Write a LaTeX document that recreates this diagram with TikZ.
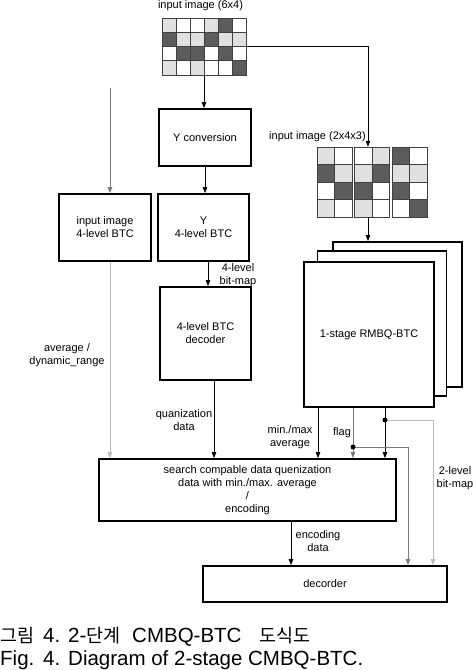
\documentclass[tikz,border=0pt]{standalone}
\usepackage{fontspec}
\setmainfont{Liberation Sans}
\newfontfamily\krfont{Noto Sans CJK KR}
\newcommand\krcap{\krfont\fontsize{18.5}{20}\selectfont}
\usetikzlibrary{arrows.meta}
\definecolor{cellL}{HTML}{E0E0E0}
\definecolor{cellW}{HTML}{FFFFFF}
\definecolor{cellD}{HTML}{5C5C5C}
\definecolor{wireGray}{HTML}{7A7A7A}
\definecolor{wireLight}{HTML}{BBBBBB}

\begin{document}
\begin{tikzpicture}[x=1pt,y=-1pt,font=\fontsize{11}{13}\selectfont,
  block/.style={draw,line width=1.8pt,fill=white,align=center,inner sep=0pt},
  cell/.style={draw=black!75,line width=0.8pt},
  wire/.style={draw,line width=0.8pt,-{Triangle[length=6pt,width=4.5pt]}},
  lab/.style={align=center,inner sep=0pt},
  captext/.style={anchor=base west,inner sep=0pt,font=\fontsize{20.5}{22}\selectfont}]
\useasboundingbox (0,0) rectangle (474,670);

% input images
\node[inner sep=0pt,minimum width=84,minimum height=57] (img6) at (204,46.5) {};
\node[inner sep=0pt,minimum width=110,minimum height=70] (img3) at (372,182) {};
\foreach \row/\cols in {0/{L,W,W,L,D,W},1/{D,L,L,D,L,L},2/{W,D,D,W,D,W},3/{L,W,L,W,W,D}} {
  \foreach \c [count=\i from 0] in \cols {
    \draw[cell,fill=cell\c] ({162+14*\i},{18+14.25*\row}) rectangle ++(14,14.25);
    \pgfmathsetmacro\gx{317+37.5*int(\i/2)+17.5*mod(\i,2)}
    \draw[cell,fill=cell\c] (\gx,{147+17.5*\row}) rectangle ++(17.5,17.5);
  }
}
\node[lab] (img6lab) at (200.5,6) {input image (6x4)};
\node[lab,anchor=east] (img3lab) at (366,137) {input image (2x4x3)};

% blocks
\node[block,minimum width=92,minimum height=57] (yconv) at (205,137.5) {Y conversion};
\node[block,minimum width=92,minimum height=67] (inbtc) at (105,227.5) {input image\\4-level BTC};
\node[block,minimum width=91,minimum height=67] (ybtc) at (203.5,227.5) {Y\\4-level BTC};
\node[block,minimum width=91,minimum height=93] (dec4) at (205.5,333.5) {4-level BTC\\decoder};
\foreach \name/\cx/\cy in {rm3/397.5/314.5,rm2/382/323.5} {
  \node[block,minimum width=129,minimum height=145] (\name) at (\cx,\cy) {};
}
\node[block,minimum width=130,minimum height=145] (rm1) at (369,334.5) {1-stage RMBQ-BTC};
\node[block,minimum width=297,minimum height=62] (search) at (247.5,490)
  {search compable data quenization\\data with min./max. average\\/\\encoding};
\node[block,minimum width=244,minimum height=36] (deco) at (325,584) {decorder};

% connectors
\coordinate (lstart) at (110,88);
\coordinate (bitdot) at (385,420);
\coordinate (flagdot) at (353,447);
\draw[wire] (img6.south) -- (img6.south |- yconv.north);
\draw[wire] (img6.east) -| ([xshift=-4pt]img3.north);
\draw[wire] ([xshift=-4pt]img3.south) -- ([xshift=-4pt]img3.south |- rm3.north);
\draw[wire,wireGray] (lstart) -- (lstart |- inbtc.north);
\draw[wire] (yconv.south) -- (yconv.south |- ybtc.north);
\draw[wire] ([xshift=4.5pt]ybtc.south) -- ([xshift=4.5pt]ybtc.south |- dec4.north);
\draw[wire,wireLight] ([xshift=5pt]inbtc.south) -- ([xshift=5pt]inbtc.south |- search.north);
\draw[wire] ([xshift=8.5pt]dec4.south) -- ([xshift=8.5pt]dec4.south |- search.north);
\draw[wire] ([xshift=-51pt]rm1.south) -- ([xshift=-51pt]rm1.south |- search.north);
\draw[wire,wireGray] ([xshift=-16pt]rm1.south) -- ([xshift=-16pt]rm1.south |- search.north);
\draw[wire] ([xshift=16pt]rm1.south) -- ([xshift=16pt]rm1.south |- search.north);
\draw[wire,wireGray] (flagdot) -| ([xshift=83pt]deco.north);
\draw[wire,wireLight] (bitdot) -| ([xshift=108pt]deco.north);
\draw[wire] ([xshift=43.5pt]search.south) -- ([xshift=43.5pt]search.south |- deco.north);
\fill (flagdot) circle (2.5pt);
\fill (bitdot) circle (2.5pt);

% labels
\node[lab] (bitmap4) at (238,275) {4-level\\bit-map};
\node[lab] (avgdyn) at (67,355) {average /\\dynamic\_range};
\node[lab] (quandata) at (184,420) {quanization\\data};
\node[lab] (minmax) at (290,437) {min./max\\average};
\node[lab] (flaglab) at (342,433) {flag};
\node[lab] (bitmap2) at (455,478) {2-level\\bit-map};
\node[lab] (encdata) at (318,541) {encoding\\data};

% caption
\foreach \x/\txt [count=\k] in {0/{\krcap 그림},43/4.,68/{2-\krcap 단계},132/CMBQ-BTC,259/{\krcap 도식도}} {
  \node[captext] (capk\k) at (\x,642) {\txt};
}
\foreach \x/\txt [count=\k] in {0/Fig.,43/4.,68/Diagram of 2-stage CMBQ-BTC.} {
  \node[captext] (cape\k) at (\x,665) {\txt};
}
\end{tikzpicture}
\end{document}
